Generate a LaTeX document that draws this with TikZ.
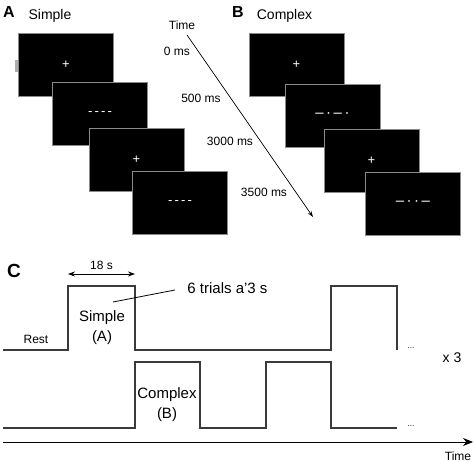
\documentclass[tikz,border=0pt]{standalone}
\usepackage{fontspec}
\setmainfont{Liberation Sans}
\usetikzlibrary{arrows.meta}
\definecolor{frameGray}{HTML}{8A8A8A}
\definecolor{traceGray}{HTML}{3A3A3A}

\begin{document}
\begin{tikzpicture}[x=1pt,y=-1pt,
  screen/.style={fill=black,draw=frameGray,line width=0.9pt,minimum width=95pt,minimum height=63pt,inner sep=0pt,text=white,font=\fontsize{13}{13}\selectfont},
  panel/.style={font=\bfseries\fontsize{16}{16}\selectfont},
  title/.style={font=\fontsize{14}{14}\selectfont},
  tlabel/.style={font=\fontsize{12}{12}\selectfont},
  trace/.style={traceGray,line width=1.3pt},
  blocklabel/.style={align=center,font=\fontsize{15}{20}\selectfont}]
\useasboundingbox (0,0) rectangle (474,462);
% panel A
\node[panel] (labA) at (9,12) {A};
\node[title] (titA) at (50,16) {Simple};
\fill[frameGray!70] (15,60) rectangle (18,72);
\node[screen] (a1) at (66,64.5) {+};
\node[screen] (a2) at (100,114) {-\,-\,-\,-};
\node[screen] (a3) at (136.5,159.5) {+};
\node[screen] (a4) at (180,203) {-\,-\,-\,-};
% time axis between A and B
\node[tlabel] (time) at (182,25) {Time};
\coordinate (t0) at (187,35);
\coordinate (t1) at (313,217);
\draw[line width=0.7pt,-{Stealth[length=6pt,width=4pt]}] (t0) -- (t1);
\node[tlabel] (ms0) at (177,51) {0 ms};
\node[tlabel] (ms500) at (201,98) {500 ms};
\node[tlabel] (ms3000) at (230,141) {3000 ms};
\node[tlabel] (ms3500) at (264,192) {3500 ms};
% panel B
\node[panel] (labB) at (238,12) {B};
\node[title] (titB) at (284.5,16) {Complex};
\node[screen] (b1) at (296.5,64.5) {+};
\node[screen,font=\fontsize{15}{15}\selectfont] (b2) at (332.5,115.5) {\textendash\,·\,\textendash\,·};
\node[screen] (b3) at (371.5,161) {+};
\node[screen,font=\fontsize{15}{15}\selectfont] (b4) at (413,203.5) {\textendash\,·\,·\,\textendash};
% panel C
\node[panel,font=\bfseries\fontsize{19}{19}\selectfont] (labC) at (14,271) {C};
\draw[trace] (3,350) -- (68,350) -- (68,286) -- (135,286) -- (135,350) -- (331,350)
  -- (331,286) -- (397,286) -- (397,350);
\draw[trace] (3,428) -- (135,428) -- (135,362) -- (200,362) -- (200,428) -- (266,428)
  -- (266,362) -- (331,362) -- (331,428) -- (397,428);
\node[font=\fontsize{8}{8}\selectfont] (dotsA) at (411,348) {...};
\node[font=\fontsize{8}{8}\selectfont] (dotsB) at (411,426) {...};
\node[font=\fontsize{14}{14}\selectfont] (rep) at (452,358) {x 3};
\node[tlabel,font=\fontsize{12}{12}\selectfont] (rest) at (36,339) {Rest};
\node[blocklabel] (simple) at (102,328) {Simple\\(A)};
\node[blocklabel] (complex) at (167,404.5) {Complex\\(B)};
\coordinate (s1) at (68,274);
\coordinate (s2) at (135,274);
\draw[line width=0.8pt,{Stealth[length=7pt,width=5pt]}-{Stealth[length=7pt,width=5pt]}] (s1) -- (s2);
\node[tlabel] (dur) at (101.5,265) {18 s};
\node[font=\fontsize{15}{15}\selectfont] (trials) at (227.5,288) {6 trials a’3 s};
\coordinate (tr) at (113,302);
\draw[line width=0.8pt] (tr) -- ([xshift=-9pt,yshift=-2pt]trials.west);
\coordinate (x0) at (3,442);
\coordinate (x1) at (473,442);
\draw[line width=1pt,-{Stealth[length=10pt,width=8pt]}] (x0) -- (x1);
\node[tlabel] (timeC) at (458,456) {Time};
\end{tikzpicture}
\end{document}
